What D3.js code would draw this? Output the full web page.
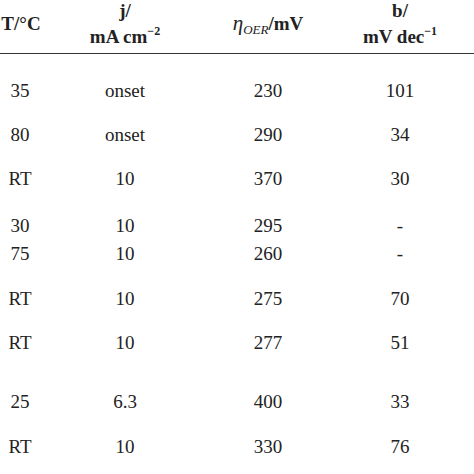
<!DOCTYPE html><html><head><meta charset="utf-8"><script src="https://cdn.jsdelivr.net/npm/d3@7"></script>
<style>body{margin:0;background:#fff}</style></head><body><svg id="c" width="474" height="474"></svg>
<script>
const temps=["35","80","RT","30","75","RT","RT","25","RT"];
const currents=["onset","onset","10","10","10","10","10","6.3","10"];
const overpot=["230","290","370","295","260","275","277","400","330"];
const tafel=["101","34","30","-","-","70","51","33","76"];
const rowSlot=[0,1,2,3.05,3.68,4.7,5.7,7.03,8.03];
const svg=d3.select("#c");
const x=d3.scaleOrdinal().domain([0,1,2,3]).range([20,125,268,400]);
const y=d3.scaleLinear().domain([0,8.03]).range([90,446]);
const font="'Liberation Serif','DejaVu Serif',serif";
const g=svg.append("g").attr("font-family",font).attr("fill","#222").attr("font-size",19);
const H=g.append("g").attr("font-weight","bold").attr("text-anchor","middle");
H.append("text").attr("x",x(0)+1).attr("y",30).text("T/°C");
H.append("text").attr("x",x(1)).attr("y",17).text("j/");
const t1=H.append("text").attr("x",x(1)).attr("y",43);t1.append("tspan").text("mA cm");t1.append("tspan").attr("dy",-8).attr("font-size",12).text("−2");
const t2=H.append("text").attr("x",x(2)).attr("y",30);t2.append("tspan").attr("font-style","italic").attr("font-weight","normal").attr("font-size",21).text("η");t2.append("tspan").attr("font-style","italic").attr("font-weight","normal").attr("font-size",13).attr("dy",4).text("OER");t2.append("tspan").attr("dy",-4).text("/mV");
H.append("text").attr("x",x(3)).attr("y",17).text("b/");
const t3=H.append("text").attr("x",x(3)).attr("y",43);t3.append("tspan").text("mV dec");t3.append("tspan").attr("dy",-8).attr("font-size",12).text("−1");
g.append("line").attr("x1",0).attr("x2",474).attr("y1",53.5).attr("y2",53.5).attr("stroke","#333").attr("stroke-width",1);
const cols=[temps,currents,overpot,tafel];
cols.forEach((c,ci)=>{g.append("g").attr("text-anchor","middle").selectAll("text").data(c).join("text")
 .attr("x",x(ci)).attr("y",(d,i)=>y(rowSlot[i])).attr("dy","0.35em").text(d=>d);});
</script></body></html>
